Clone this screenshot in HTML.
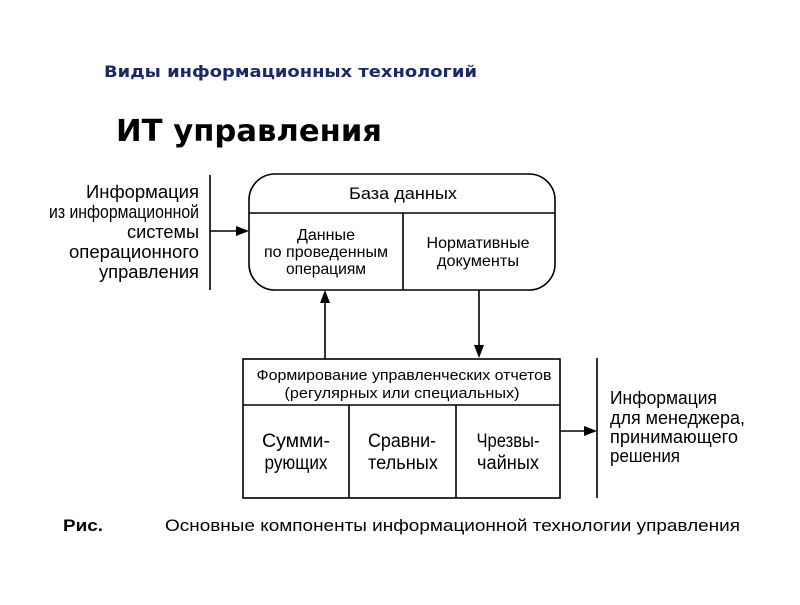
<!DOCTYPE html>
<html><head><meta charset="utf-8"><style>
body{margin:0;width:800px;height:600px;background:#fff;overflow:hidden}
</style></head><body>
<svg width="800" height="600" xmlns="http://www.w3.org/2000/svg" font-family="Liberation Sans, sans-serif">
<text x="104" y="77" font-family="DejaVu Sans, sans-serif" font-weight="bold" font-size="16" fill="#1b2a66" textLength="373" lengthAdjust="spacingAndGlyphs">Виды информационных технологий</text>
<text x="116" y="141" font-family="DejaVu Sans, sans-serif" font-weight="bold" font-size="30" fill="#000" textLength="266" lengthAdjust="spacingAndGlyphs">ИТ управления</text>
<g fill="none" stroke="#000" stroke-width="1.6">
<rect x="249" y="174" width="306" height="116" rx="26"/>
<line x1="249" y1="213" x2="555" y2="213"/>
<line x1="403" y1="213" x2="403" y2="290"/>
<line x1="210" y1="175" x2="210" y2="290"/>
<line x1="210" y1="231" x2="238" y2="231"/>
<line x1="325" y1="359" x2="325" y2="300"/>
<line x1="479" y1="290" x2="479" y2="348"/>
<rect x="243" y="359" width="317" height="139"/>
<line x1="243" y1="405" x2="560" y2="405"/>
<line x1="349" y1="405" x2="349" y2="498"/>
<line x1="456" y1="405" x2="456" y2="498"/>
<line x1="560" y1="431" x2="586" y2="431"/>
<line x1="597" y1="358" x2="597" y2="498"/>
</g>
<g fill="#000">
<polygon points="249,231 236,226 236,236"/>
<polygon points="325,290 320,303 330,303"/>
<polygon points="479,358 474,345 484,345"/>
<polygon points="597,431 584,426 584,436"/>
</g>
<g font-size="18" text-anchor="end">
<text x="199" y="198" textLength="113" lengthAdjust="spacingAndGlyphs">Информация</text>
<text x="199" y="218" textLength="150" lengthAdjust="spacingAndGlyphs">из информационной</text>
<text x="199" y="238" textLength="72" lengthAdjust="spacingAndGlyphs">системы</text>
<text x="199" y="258" textLength="130" lengthAdjust="spacingAndGlyphs">операционного</text>
<text x="199" y="278" textLength="100" lengthAdjust="spacingAndGlyphs">управления</text>
</g>
<g font-size="16" text-anchor="middle">
<text x="403" y="199" font-size="17" textLength="108" lengthAdjust="spacingAndGlyphs">База данных</text>
<text x="326" y="240" textLength="58" lengthAdjust="spacingAndGlyphs">Данные</text>
<text x="326" y="257" textLength="124" lengthAdjust="spacingAndGlyphs">по проведенным</text>
<text x="326" y="274" textLength="80" lengthAdjust="spacingAndGlyphs">операциям</text>
<text x="478" y="248" textLength="103" lengthAdjust="spacingAndGlyphs">Нормативные</text>
<text x="478" y="266" textLength="82" lengthAdjust="spacingAndGlyphs">документы</text>
<text x="404" y="380" font-size="15" textLength="295" lengthAdjust="spacingAndGlyphs">Формирование управленческих отчетов</text>
<text x="402" y="398" font-size="15" textLength="235" lengthAdjust="spacingAndGlyphs">(регулярных или специальных)</text>
<text x="296" y="447" font-size="19" textLength="68" lengthAdjust="spacingAndGlyphs">Сумми-</text>
<text x="296" y="469" font-size="19" textLength="63" lengthAdjust="spacingAndGlyphs">рующих</text>
<text x="402" y="447" font-size="19" textLength="68" lengthAdjust="spacingAndGlyphs">Сравни-</text>
<text x="403" y="469" font-size="19" textLength="70" lengthAdjust="spacingAndGlyphs">тельных</text>
<text x="508" y="447" font-size="19" textLength="63" lengthAdjust="spacingAndGlyphs">Чрезвы-</text>
<text x="508" y="469" font-size="19" textLength="62" lengthAdjust="spacingAndGlyphs">чайных</text>
</g>
<g font-size="18">
<text x="610" y="404" textLength="107" lengthAdjust="spacingAndGlyphs">Информация</text>
<text x="610" y="424" textLength="135" lengthAdjust="spacingAndGlyphs">для менеджера,</text>
<text x="610" y="443" textLength="128" lengthAdjust="spacingAndGlyphs">принимающего</text>
<text x="610" y="462" textLength="70" lengthAdjust="spacingAndGlyphs">решения</text>
<text x="63" y="531" font-weight="bold" font-size="17" textLength="40" lengthAdjust="spacingAndGlyphs">Рис.</text>
<text x="165" y="531" font-size="17" textLength="575" lengthAdjust="spacingAndGlyphs">Основные компоненты информационной технологии управления</text>
</g>
</svg>
</body></html>
